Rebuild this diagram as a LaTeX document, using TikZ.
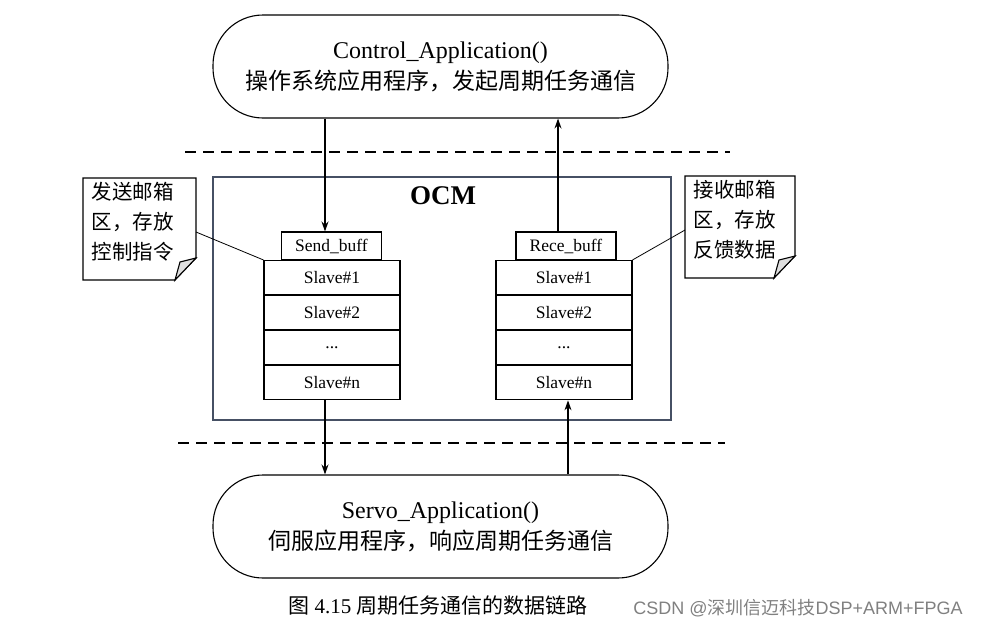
\documentclass[tikz,border=0pt]{standalone}
\usepackage{fontspec}
\setmainfont{Liberation Serif}
\newfontfamily\cjk{Noto Sans CJK SC}
\newfontfamily\wsans{Liberation Sans}
\usetikzlibrary{arrows.meta}
\begin{document}
\begin{tikzpicture}[x=1pt,y=-1pt,line width=1.1pt,
  stad/.style={draw,rounded corners=50pt,minimum width=455pt,minimum height=103pt,align=center,font=\fontsize{24}{31}\selectfont},
  cell/.style={draw,minimum width=136pt,minimum height=34pt,font=\fontsize{17.5}{20}\selectfont,inner sep=0pt},
  buf/.style={draw,minimum width=100pt,minimum height=28pt,font=\fontsize{17.5}{20}\selectfont,inner sep=0pt},
  arr/.style={-{Stealth[length=10pt,width=7pt]}},
  dashl/.style={dash pattern=on 11pt off 7pt},
  note/.style={font=\cjk\fontsize{20.5}{30}\selectfont,align=left}]
\useasboundingbox (0,0) rectangle (982,629);
\node[stad] (top) at (440.5,66.5) {Control\_Application()\\{\cjk\fontsize{23}{31}\selectfont 操作系统应用程序，发起周期任务通信}};
\node[stad] (bot) at (440.5,526.5) {Servo\_Application()\\{\cjk\fontsize{23}{31}\selectfont 伺服应用程序，响应周期任务通信}};
\draw[dashl] (185,152) -- (730,152);
\draw[dashl] (178,443) -- (725,443);
\draw[draw={rgb,255:red,70;green,80;blue,100}] (213,177) rectangle (671,420);
\node[font=\bfseries\fontsize{27}{30}\selectfont] (ocm) at (443,196) {OCM};
% left stack
\node[buf] (sb) at (331.5,246) {Send\_buff};
\node[cell] (l1) at (332,277.5) {Slave\#1};
\node[cell,anchor=north] (l2) at (l1.south) {Slave\#2};
\node[cell,anchor=north] (l3) at (l2.south) {...};
\node[cell,anchor=north] (l4) at (l3.south) {Slave\#n};
% right stack
\node[buf] (rb) at (566,246) {Rece\_buff};
\node[cell] (r1) at (564,277.5) {Slave\#1};
\node[cell,anchor=north] (r2) at (r1.south) {Slave\#2};
\node[cell,anchor=north] (r3) at (r2.south) {...};
\node[cell,anchor=north] (r4) at (r3.south) {Slave\#n};
% arrows
\draw[arr] (top.south -| 325,0) -- (sb.north -| 325,0);
\draw[arr] (rb.north -| 558,0) -- (top.south -| 558,0);
\draw[arr] (l4.south -| 325,0) -- (bot.north -| 325,0);
\draw[arr] (bot.north -| 568,0) -- (r4.south -| 568,0);
% notes
\draw (83,178) -- (196,178) -- (196,258) -- (175,280) -- (83,280) -- cycle;
\draw[fill=gray!25] (196,258) -- (180,262) -- (175,280) -- cycle;
\node[note,anchor=north west] (nl) at (88,178) {发送邮箱\\区，存放\\控制指令};
\draw (685,176) -- (795,176) -- (795,256) -- (774,278) -- (685,278) -- cycle;
\draw[fill=gray!25] (795,256) -- (779,260) -- (774,278) -- cycle;
\node[note,anchor=north west] (nr) at (690,176) {接收邮箱\\区，存放\\反馈数据};
\coordinate (nla) at (196,232);
\coordinate (nra) at (685,230);
\draw[line width=0.8pt] (nla) -- (l1.north west);
\draw[line width=0.8pt] (nra) -- (r1.north east);
\node[font=\fontsize{21}{24}\selectfont] (cap) at (438,606) {{\cjk 图} 4.15 {\cjk 周期任务通信的数据链路}};
\node[font=\wsans\fontsize{18}{20}\selectfont,text=gray] (wm) at (798,608) {CSDN @{\cjk 深圳信迈科技}DSP+ARM+FPGA};
\end{tikzpicture}
\end{document}
